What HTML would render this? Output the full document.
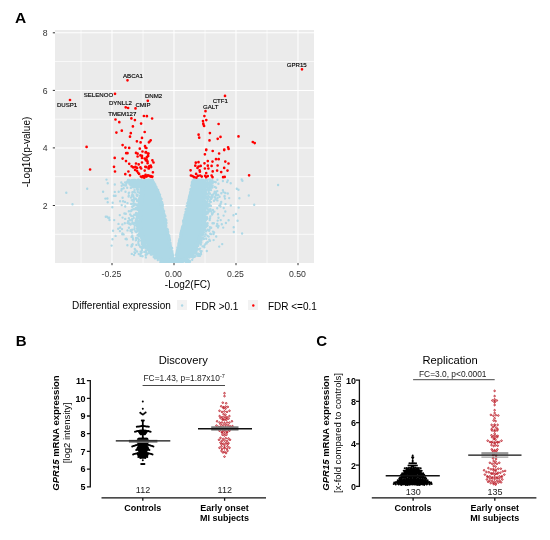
<!DOCTYPE html>
<html><head><meta charset="utf-8"><style>
html,body{margin:0;padding:0;background:#fff;}
svg{display:block;font-family:"Liberation Sans", sans-serif;filter:blur(0.35px);}
</style></head><body>
<svg width="550" height="540" viewBox="0 0 550 540">
<defs><clipPath id="pc"><rect x="55" y="30" width="259" height="233"/></clipPath></defs>
<rect x="55" y="30" width="259" height="233" fill="#EBEBEB"/>
<g clip-path="url(#pc)">
<path d="M81.0 30V263M143.0 30V263M205.0 30V263M267.0 30V263M55 234.3H314M55 176.7H314M55 119.2H314M55 61.6H314" stroke="#FBFBFB" stroke-width="0.85" fill="none"/>
<path d="M112.0 30V263M174.0 30V263M236.0 30V263M298.0 30V263M55 205.5H314M55 147.9H314M55 90.4H314M55 32.8H314" stroke="#FFFFFF" stroke-width="1.05" fill="none"/>
<path d="M143.0 184.0L142.5 195.0L141.0 206.0L140.0 222.0L141.0 232.0L142.5 237.0L144.5 241.4L147.5 246.8L152.7 252.3L158.8 257.7L165.0 261.0L174.0 263.0L174.0 263.0L182.5 260.0L189.8 255.6L193.6 250.2L196.6 244.7L198.6 239.3L201.0 233.8L203.5 222.9L204.3 212.0L204.3 197.0L203.0 186.0L192.5 186.0L191.5 190.3L190.5 194.5L189.5 198.8L188.6 203.1L187.6 207.3L186.6 211.6L185.6 215.9L184.7 220.1L183.7 224.4L182.7 228.6L181.7 232.9L180.8 237.2L179.8 241.4L178.8 245.7L177.8 250.0L176.8 254.2L175.9 258.5L173.0 258.5L172.1 254.1L171.2 249.7L170.2 245.4L169.3 241.0L168.4 236.6L167.4 232.2L166.5 227.8L165.6 223.4L164.6 219.1L163.7 214.7L162.8 210.3L161.8 205.9L160.9 201.5L160.0 197.1L158.4 192.8L156.2 188.4L154.1 184.0Z" fill="#ADD8E6"/>
<path d="M167.2 228.9h0M179.2 240.8h0M161.1 203.3h0M194.1 180.0h0M169.6 242.5h0M188.3 203.5h0M160.4 199.7h0M184.8 219.4h0M173.1 258.1h0M181.8 228.7h0M160.0 196.6h0M182.7 227.9h0M153.5 182.4h0M185.0 216.4h0M167.2 229.2h0M184.4 218.8h0M159.3 194.8h0M189.6 195.4h0M152.8 179.9h0M190.8 191.8h0M171.4 249.1h0M178.4 246.4h0M168.3 238.1h0M183.9 222.3h0M172.1 248.3h0M182.3 226.8h0M163.3 210.2h0M191.2 191.5h0M163.2 209.5h0M182.7 226.2h0M167.0 229.9h0M190.4 191.5h0M160.5 198.5h0M192.4 187.2h0M159.8 196.6h0M187.3 203.3h0M167.6 231.8h0M178.7 246.3h0M171.6 250.9h0M191.7 191.1h0M172.0 252.8h0M190.3 193.8h0M166.8 230.2h0M186.6 209.3h0M160.8 198.5h0M178.1 248.7h0M166.2 222.8h0M180.3 238.9h0M162.9 209.0h0M190.5 189.3h0M167.2 231.5h0M185.2 220.9h0M162.0 206.8h0M181.5 233.5h0M165.2 220.6h0M177.4 251.3h0M172.2 253.2h0M179.6 239.0h0M157.2 190.4h0M179.0 243.9h0M166.8 229.2h0M183.5 220.1h0M160.5 197.5h0M187.5 208.3h0M162.7 206.9h0M183.6 224.8h0M160.4 201.0h0M186.3 214.7h0M165.1 220.3h0M177.0 250.3h0M166.0 225.4h0M177.4 248.9h0M171.5 252.4h0M185.8 213.5h0M172.5 254.6h0M178.9 243.2h0M168.6 236.2h0M187.5 205.8h0M159.6 195.6h0M189.5 196.4h0M170.8 245.9h0M184.3 217.4h0M167.3 231.6h0M176.6 255.5h0M167.1 229.2h0M190.5 194.1h0M163.4 212.1h0M178.4 243.9h0M156.4 188.5h0M179.1 242.9h0M165.1 220.9h0M192.7 183.3h0M153.0 181.2h0M189.5 199.2h0M165.8 224.3h0M183.4 226.2h0M167.9 233.1h0M188.4 204.1h0M166.0 222.1h0M182.4 231.5h0M160.0 194.7h0M193.3 182.7h0M173.3 255.3h0M192.0 183.6h0M161.4 204.7h0M182.7 229.0h0M160.9 204.4h0M179.3 242.5h0M169.4 240.1h0M189.4 195.2h0M166.8 230.0h0M192.1 187.2h0M167.3 229.5h0M178.8 243.0h0M168.3 236.6h0M177.2 250.1h0M153.4 181.7h0M189.1 196.5h0M172.4 254.1h0M188.4 199.5h0M167.9 231.5h0M186.8 209.6h0M168.2 231.9h0M185.8 209.3h0M164.7 222.2h0M188.9 199.1h0M164.8 215.7h0M179.5 239.0h0M162.1 203.2h0M179.9 239.8h0M157.4 190.1h0M192.4 186.0h0M160.6 200.8h0M178.3 245.3h0M158.9 194.4h0M177.7 249.3h0M169.3 235.7h0M180.3 237.0h0M170.6 244.8h0M187.1 208.9h0M165.3 220.5h0M190.1 194.7h0M166.1 221.9h0M177.4 250.3h0M159.1 194.1h0M181.2 230.5h0M173.7 258.2h0M178.7 246.1h0M163.3 210.8h0M190.2 194.2h0M169.9 239.4h0M185.6 214.7h0M163.3 212.7h0M178.6 246.2h0M162.9 210.2h0M180.6 236.5h0M170.3 245.1h0M186.5 210.2h0M168.6 239.6h0M190.6 191.3h0M170.1 244.7h0M190.8 189.3h0M173.0 257.5h0M183.3 225.0h0M168.7 238.8h0M178.0 251.7h0M169.4 240.3h0M185.2 217.0h0M161.3 204.4h0M180.2 236.4h0M155.1 184.1h0M177.8 249.7h0M160.6 199.1h0M188.9 197.5h0M165.7 219.3h0M190.0 193.5h0M164.4 217.8h0M181.4 232.5h0M165.5 221.2h0M184.3 220.3h0M165.5 221.9h0M180.2 242.0h0M159.2 193.8h0M191.8 188.5h0M171.7 253.9h0M176.4 256.1h0M164.3 219.6h0M176.8 251.8h0M162.8 204.5h0M192.1 184.8h0M164.3 216.3h0M179.4 239.6h0M168.8 239.6h0M178.8 246.6h0M168.7 237.6h0M190.5 192.8h0M158.5 192.7h0M182.2 226.7h0M172.2 253.5h0M184.8 220.2h0M172.4 255.8h0M179.3 243.0h0M170.5 242.9h0M181.5 230.4h0M164.2 213.8h0M180.3 234.2h0M162.4 206.0h0M189.7 196.1h0M168.9 240.3h0M180.4 237.0h0M172.3 255.2h0M185.5 211.9h0M165.8 220.9h0M192.6 186.3h0M165.4 223.6h0M192.7 182.7h0M166.9 229.4h0M192.2 185.5h0M159.7 197.1h0M178.2 248.9h0M164.2 215.4h0M180.4 235.4h0M169.9 243.3h0M182.1 228.5h0M167.8 233.1h0M186.6 211.6h0M163.5 210.9h0M186.3 209.6h0M169.2 239.2h0M187.1 206.3h0M162.2 209.7h0M179.0 241.6h0M168.5 235.8h0M177.4 247.5h0M165.6 223.6h0M181.6 233.1h0M163.3 212.8h0M188.0 202.7h0M163.3 213.6h0M184.7 214.9h0M166.2 225.5h0M177.6 249.7h0M161.0 200.7h0M184.2 218.6h0M154.6 185.4h0M190.4 195.2h0M170.0 244.9h0M184.9 217.0h0M163.0 215.7h0M183.3 222.7h0M161.4 204.6h0M179.0 240.4h0M169.5 237.4h0M185.4 214.7h0M167.2 233.5h0M182.0 230.4h0M167.2 229.9h0M185.0 217.2h0M167.7 229.4h0M176.2 255.5h0M161.6 203.7h0M192.1 184.9h0M169.0 240.5h0M190.1 195.0h0M161.8 205.0h0M184.4 218.1h0M167.3 231.4h0M179.8 240.2h0M162.3 206.7h0M185.5 214.1h0M156.8 190.8h0M182.1 230.1h0M157.4 190.5h0M188.1 202.0h0M153.0 181.6h0M190.1 192.6h0M152.9 180.8h0M188.6 200.9h0M158.6 194.1h0M186.4 211.7h0M170.4 244.0h0M176.8 252.5h0M168.0 232.3h0M181.0 231.9h0M170.0 240.5h0M176.5 254.8h0M157.1 188.6h0M191.9 182.2h0M171.2 251.8h0M182.3 227.9h0M167.8 233.1h0M177.2 254.7h0M162.1 206.1h0M192.7 181.1h0M168.4 234.4h0M178.3 246.8h0M161.8 206.2h0M191.6 190.0h0M162.1 203.6h0M176.7 252.8h0M171.2 250.5h0M178.5 246.9h0M152.5 179.9h0M189.0 199.0h0M169.6 242.7h0M189.6 196.4h0M172.5 253.7h0M180.9 235.0h0M169.0 243.9h0M184.6 220.3h0M166.5 223.0h0M192.3 186.3h0M169.7 239.9h0M188.0 204.3h0M165.1 215.5h0M188.3 202.7h0M167.8 229.8h0M187.5 209.4h0M168.2 234.7h0M193.5 181.7h0M167.8 235.9h0M180.6 237.3h0M163.7 216.6h0M185.8 215.0h0M161.5 203.7h0M189.6 196.9h0M158.5 193.2h0M185.3 216.4h0M169.2 237.9h0M188.3 201.1h0M164.9 219.6h0M191.5 189.5h0M164.2 217.0h0M193.0 184.9h0M172.0 247.9h0M193.6 180.1h0M162.7 208.7h0M192.4 185.4h0M169.8 243.7h0M184.8 215.4h0M161.6 204.8h0M186.6 210.5h0M155.3 186.1h0M176.0 254.8h0M166.9 230.7h0M183.3 224.7h0M166.3 226.1h0M184.0 223.0h0M165.9 225.6h0M191.8 192.7h0M170.2 244.1h0M184.7 222.6h0M163.1 211.4h0M187.1 209.0h0M167.8 233.8h0M192.5 188.0h0M172.4 252.5h0M188.8 199.3h0M170.7 246.6h0M193.1 183.1h0M158.9 194.8h0M176.7 252.3h0M158.6 193.1h0M183.1 220.9h0M164.0 214.1h0M188.1 207.5h0M168.3 238.8h0M178.5 243.4h0M169.7 241.3h0M178.0 248.3h0M164.3 215.6h0M184.3 219.7h0M157.4 190.6h0M191.9 183.7h0M158.1 189.9h0M187.8 207.7h0M160.9 201.8h0M187.6 205.7h0M160.7 199.8h0M179.8 239.2h0M171.0 249.6h0M189.1 204.1h0M160.7 199.6h0M186.0 214.1h0M172.2 253.4h0M180.9 235.8h0M158.0 190.0h0M181.1 234.5h0M172.4 251.1h0M191.7 186.9h0M172.6 253.6h0M177.7 252.0h0M155.2 184.9h0M185.0 215.8h0M168.5 237.8h0M175.5 258.3h0M169.9 243.7h0M179.6 241.4h0M173.1 257.9h0M185.1 215.3h0M171.9 254.2h0M176.4 253.8h0M162.8 209.2h0M185.4 216.8h0M163.2 210.1h0M191.4 190.6h0M169.8 239.1h0M181.7 232.6h0M159.7 197.8h0M188.5 201.5h0M168.7 239.6h0M187.8 205.1h0M158.7 194.3h0M181.0 234.6h0M161.6 203.0h0M193.3 182.3h0M166.2 225.2h0M188.5 207.1h0M166.2 226.1h0M181.2 235.3h0M172.6 256.1h0M188.6 199.6h0M173.0 257.8h0M182.0 227.4h0M172.6 254.6h0M183.4 220.7h0M168.7 235.0h0M187.7 205.5h0M153.9 182.4h0M191.7 185.6h0M162.8 205.9h0M193.6 182.0h0M164.3 213.9h0M180.8 235.5h0M161.0 198.9h0M177.4 250.4h0M156.4 187.0h0M192.3 181.8h0M153.2 181.6h0M182.8 229.6h0M158.6 191.9h0M188.0 206.1h0M155.9 186.4h0M181.5 233.0h0M166.5 228.4h0M189.1 200.1h0M172.3 254.7h0M181.9 230.2h0M152.7 180.8h0M192.4 184.9h0M167.7 234.3h0M179.7 241.7h0M159.2 193.6h0M178.8 246.8h0M161.5 198.9h0M186.7 211.4h0M165.1 219.5h0M185.0 214.5h0M168.5 235.8h0M178.0 248.2h0M162.0 204.6h0M176.7 253.7h0M155.7 187.2h0M176.1 257.7h0M154.4 183.9h0M185.0 219.4h0M172.2 254.7h0M191.5 189.5h0M163.9 211.8h0M182.9 228.8h0M165.7 225.1h0M178.8 244.1h0M168.1 234.7h0M185.7 216.8h0M165.8 222.1h0M185.6 213.4h0M154.4 184.1h0M193.1 181.0h0M163.0 209.7h0M188.1 202.9h0M159.0 193.3h0M176.8 255.4h0M165.4 216.3h0M188.8 202.5h0M162.2 202.3h0M186.7 206.0h0M172.4 252.7h0M179.4 243.3h0M163.1 209.5h0M192.3 185.1h0M166.0 228.8h0M181.1 232.4h0M172.9 257.0h0M179.2 243.2h0M172.4 256.1h0M177.9 248.2h0M166.9 228.7h0M190.0 195.4h0M161.4 202.5h0M191.6 189.7h0M171.9 252.4h0M193.3 180.6h0M157.0 190.2h0M182.9 225.6h0M163.4 213.5h0M181.8 232.0h0M164.1 211.1h0M178.1 251.0h0M168.3 236.3h0M177.7 250.2h0M165.0 219.5h0M180.7 232.7h0M156.5 190.4h0M192.8 181.9h0M172.5 255.3h0M190.1 192.3h0M155.1 186.4h0M182.5 226.3h0M156.0 188.2h0M178.5 243.1h0M157.4 190.5h0M182.5 229.3h0M171.1 247.8h0M184.0 219.9h0M165.9 224.1h0M180.4 237.3h0M172.3 257.9h0M186.4 213.0h0M169.3 241.1h0M181.5 230.1h0M166.3 220.3h0M184.7 216.6h0M161.1 202.1h0M187.6 204.6h0M163.8 211.9h0M176.3 254.4h0M172.5 258.1h0M191.3 185.4h0M153.9 183.5h0M191.1 194.2h0M161.1 203.6h0M179.3 244.5h0M161.6 205.5h0M192.8 180.1h0M171.6 255.4h0M177.8 248.2h0M161.5 202.8h0M188.3 202.4h0M154.5 186.1h0M179.8 238.8h0M158.1 191.2h0M188.0 203.0h0M169.2 238.3h0M193.5 184.3h0M172.4 257.2h0M180.9 240.3h0M170.7 248.5h0M177.5 249.7h0M171.0 248.2h0M181.0 236.1h0M146.4 181.2h0M138.1 179.6h0M148.0 182.8h0M140.1 182.5h0M145.1 182.0h0M127.3 182.2h0M138.3 185.8h0M136.9 185.0h0M146.7 179.9h0M124.1 185.3h0M148.8 182.2h0M132.1 182.6h0M137.6 181.2h0M130.4 180.8h0M150.8 185.3h0M142.3 185.8h0M143.0 185.8h0M132.3 180.1h0M139.6 183.1h0M155.0 185.4h0M138.1 180.7h0M151.9 184.3h0M144.5 184.3h0M155.0 185.3h0M148.0 180.6h0M139.2 184.3h0M144.6 179.6h0M134.9 183.5h0M136.1 182.5h0M138.4 181.1h0M149.1 185.0h0M131.2 183.1h0M149.4 185.8h0M132.8 181.6h0M130.5 180.8h0M141.2 181.6h0M133.6 183.5h0M152.1 184.3h0M145.9 185.5h0M130.5 184.0h0M142.2 184.0h0M138.8 181.7h0M152.4 182.7h0M155.0 185.3h0M155.3 185.3h0M145.6 181.6h0M144.4 184.6h0M151.7 184.8h0M138.9 186.0h0M129.3 183.7h0M150.2 181.5h0M153.7 184.7h0M134.5 180.7h0M125.1 182.5h0M144.1 180.7h0M136.0 184.9h0M152.6 181.6h0M153.9 185.0h0M137.3 182.8h0M151.3 184.4h0M138.4 181.8h0M148.8 185.9h0M146.1 185.8h0M135.6 180.2h0M130.6 183.0h0M136.9 180.5h0M145.5 180.2h0M133.9 181.2h0M130.3 183.9h0M140.9 181.0h0M134.1 184.0h0M142.2 182.2h0M132.3 183.9h0M131.7 181.5h0M148.5 179.7h0M146.1 181.8h0M137.5 180.7h0M150.4 185.9h0M137.7 179.9h0M138.9 180.7h0M133.0 180.0h0M133.0 182.2h0M147.4 180.2h0M153.8 183.0h0M145.3 179.7h0M132.0 184.7h0M134.3 181.2h0M143.9 180.4h0M141.7 185.6h0M140.6 181.9h0M151.1 181.6h0M153.7 185.3h0M139.9 185.2h0M128.7 182.0h0M144.5 181.4h0M139.7 182.7h0M147.3 184.1h0M141.2 184.2h0M141.6 180.3h0M135.7 184.5h0M140.4 180.8h0M147.4 181.7h0M145.0 184.1h0M142.1 183.2h0M143.8 181.1h0M149.8 179.8h0M141.9 181.4h0M154.4 185.6h0M150.6 183.8h0M142.9 181.0h0M144.0 185.0h0M144.8 181.0h0M153.7 185.0h0M147.2 180.8h0M130.5 183.3h0M153.4 182.7h0M145.0 181.4h0M136.6 180.8h0M131.9 182.8h0M146.1 182.4h0M142.3 180.8h0M133.9 182.2h0M140.9 182.1h0M139.8 181.0h0M138.3 179.6h0M134.1 180.0h0M133.5 184.7h0M143.2 181.8h0M152.8 185.1h0M134.6 185.5h0M147.9 185.9h0M140.0 181.4h0M129.0 180.4h0M148.9 182.0h0M126.0 185.3h0M136.0 181.8h0M152.1 181.4h0M151.0 184.9h0M154.2 182.9h0M151.2 184.6h0M139.6 184.9h0M133.4 184.9h0M141.9 185.3h0M152.3 183.0h0M135.6 185.6h0M146.3 184.1h0M134.7 184.0h0M140.9 181.8h0M126.9 181.7h0M141.5 181.3h0M140.9 182.2h0M147.7 184.0h0M144.2 183.6h0M148.2 185.5h0M148.6 183.1h0M140.3 179.9h0M135.9 182.5h0M148.7 185.0h0M145.3 183.1h0M141.4 184.3h0M144.6 182.6h0M132.9 181.5h0M143.3 184.3h0M138.2 185.2h0M131.3 182.7h0M145.3 182.6h0M144.7 183.6h0M132.4 182.9h0M145.7 181.5h0M143.1 181.2h0M146.7 184.1h0M151.2 180.3h0M137.7 184.2h0M149.8 181.7h0M138.1 184.7h0M138.7 183.4h0M128.5 180.5h0M150.6 182.6h0M142.1 186.0h0M134.3 182.1h0M143.3 183.1h0M142.6 185.0h0M135.0 180.0h0M137.6 180.9h0M146.3 180.7h0M126.4 183.4h0M154.1 182.4h0M142.9 181.9h0M138.2 185.6h0M140.8 184.2h0M130.4 185.2h0M135.2 184.6h0M149.6 182.9h0M136.3 183.6h0M153.9 184.3h0M130.0 184.3h0M136.6 180.9h0M122.8 184.2h0M131.2 183.6h0M146.3 181.7h0M135.4 181.2h0M154.1 184.2h0M149.8 185.9h0M136.9 184.3h0M150.2 184.5h0M154.8 184.4h0M148.7 183.6h0M134.1 181.4h0M149.6 184.1h0M152.6 181.9h0M137.5 181.3h0M153.0 181.1h0M153.5 182.6h0M132.5 186.0h0M150.6 180.6h0M145.5 179.9h0M135.6 183.0h0M146.3 181.4h0M145.4 184.2h0M154.2 183.8h0M140.2 183.9h0M132.8 181.4h0M142.7 180.7h0M155.3 185.0h0M151.9 184.1h0M144.5 184.4h0M140.6 183.5h0M150.5 184.4h0M137.5 180.1h0M134.0 183.9h0M138.9 181.4h0M135.5 182.3h0M137.5 184.3h0M137.0 185.6h0M147.3 181.2h0M145.3 185.5h0M149.3 183.0h0M148.4 184.9h0M129.7 183.5h0M144.7 184.0h0M197.6 185.1h0M210.8 182.8h0M201.6 187.7h0M193.4 187.8h0M198.7 185.6h0M204.8 186.8h0M195.6 182.5h0M207.8 187.4h0M193.2 183.5h0M195.6 185.4h0M212.3 187.5h0M197.7 186.9h0M200.0 186.2h0M193.5 186.9h0M194.1 184.3h0M199.4 183.9h0M196.4 185.0h0M194.7 187.1h0M206.9 185.3h0M193.7 186.3h0M201.2 186.7h0M196.9 182.7h0M193.7 180.9h0M201.9 179.8h0M199.0 184.7h0M203.4 181.6h0M207.6 187.3h0M208.3 183.7h0M205.6 182.8h0M192.0 185.1h0M197.9 187.5h0M203.4 184.7h0M199.4 183.3h0M194.2 185.5h0M196.1 180.5h0M199.9 180.0h0M204.8 185.5h0M203.9 181.2h0M205.8 183.9h0M194.9 180.7h0M202.7 181.2h0M210.6 184.9h0M192.1 185.7h0M197.3 181.9h0M193.1 186.4h0M208.9 184.2h0M202.2 185.1h0M197.2 180.3h0M198.8 187.4h0M197.0 180.1h0M207.5 181.1h0M197.5 187.5h0M198.8 181.5h0M201.0 179.9h0M195.2 184.7h0M204.3 183.7h0M211.4 183.2h0M196.8 181.8h0M207.2 185.5h0M193.9 182.3h0M193.8 180.5h0M199.0 182.9h0M198.6 180.6h0M202.6 181.1h0M212.0 187.2h0M212.2 180.1h0M192.5 185.5h0M203.6 185.5h0M205.2 180.2h0M195.1 181.7h0M202.5 181.8h0M209.8 185.4h0M200.9 185.5h0M200.2 180.0h0M208.5 183.5h0M199.5 182.4h0M192.3 186.5h0M202.1 187.4h0M211.2 181.6h0M195.8 181.5h0M195.7 182.3h0M195.7 184.9h0M209.9 185.7h0M194.4 186.7h0M197.4 185.2h0M199.7 180.1h0M193.8 179.7h0M206.2 187.3h0M194.1 184.5h0M206.4 183.0h0M195.2 184.2h0M202.4 182.4h0M193.1 182.9h0M206.6 180.3h0M204.0 183.9h0M193.5 184.3h0M198.5 187.5h0M201.0 186.1h0M194.3 182.9h0M202.7 182.2h0M211.5 181.3h0M198.3 184.3h0M193.9 187.0h0M199.9 186.4h0M203.8 187.3h0M201.3 183.8h0M206.8 183.2h0M203.0 182.6h0M206.2 183.2h0M197.1 179.9h0M207.5 183.8h0M193.9 184.5h0M196.2 181.5h0M205.1 180.9h0M201.0 184.2h0M205.8 183.9h0M194.0 187.9h0M208.1 187.9h0M205.9 180.1h0M204.3 186.9h0M195.3 184.0h0M196.5 181.3h0M195.4 184.5h0M207.2 185.5h0M210.5 184.8h0M197.2 185.6h0M195.3 182.9h0M196.6 180.1h0M197.5 187.8h0M203.7 187.0h0M193.2 183.5h0M192.8 183.2h0M211.7 180.4h0M202.2 185.6h0M196.6 185.2h0M213.9 181.8h0M199.1 181.4h0M194.5 185.4h0M201.5 181.7h0M205.2 186.6h0M193.5 184.3h0M209.6 185.9h0M199.7 187.2h0M197.2 179.6h0M212.6 185.4h0M201.5 184.1h0M212.6 181.8h0M192.7 184.1h0M200.2 187.9h0M201.8 181.4h0M193.7 185.7h0M195.0 179.6h0M214.8 186.9h0M196.0 186.9h0M199.9 182.6h0M199.2 187.0h0M192.2 185.9h0M197.8 180.7h0M211.5 181.1h0M196.3 182.7h0M205.8 185.0h0M199.6 186.3h0M201.1 181.4h0M203.3 186.3h0M203.3 179.9h0M193.4 186.5h0M200.0 187.0h0M199.4 179.6h0M209.5 185.2h0M196.6 185.2h0M199.3 181.0h0M196.5 187.5h0M198.5 179.6h0M211.4 181.0h0M204.3 187.7h0M194.1 183.5h0M198.2 179.8h0M203.2 183.6h0M201.0 181.9h0M201.7 179.5h0M196.9 182.0h0M196.1 184.7h0M196.7 183.3h0M201.5 182.8h0M195.1 180.3h0M196.8 182.1h0M202.4 180.3h0M196.1 180.6h0M204.9 182.2h0M198.4 180.5h0M196.0 186.2h0M194.8 179.8h0M210.9 185.8h0M204.7 186.9h0M194.5 185.6h0M201.7 185.7h0M194.1 187.2h0M199.4 187.9h0M206.1 179.8h0M198.8 183.9h0M197.6 183.8h0M193.6 184.1h0M195.9 187.7h0M210.0 181.2h0M195.0 180.3h0M209.8 179.5h0M198.7 182.8h0M193.6 185.4h0M193.5 181.7h0M197.7 179.9h0M198.8 179.7h0M200.1 187.3h0M202.5 182.5h0M193.6 180.0h0M192.4 186.6h0M198.4 180.7h0M205.1 180.8h0M207.9 184.1h0M210.6 187.9h0M207.8 179.7h0M157.8 260.1h0M139.3 216.3h0M151.5 250.6h0M164.1 260.1h0M142.4 235.6h0M142.2 200.9h0M159.7 258.0h0M157.0 255.6h0M140.6 209.8h0M168.0 261.6h0M152.3 251.6h0M160.5 258.8h0M140.5 204.7h0M141.9 196.6h0M141.3 186.1h0M140.8 230.6h0M139.5 185.0h0M142.4 193.8h0M143.3 186.0h0M139.1 215.5h0M140.7 209.4h0M147.2 245.7h0M140.8 210.1h0M139.8 205.5h0M143.3 190.6h0M140.3 217.0h0M150.9 249.9h0M140.5 217.0h0M150.1 249.2h0M147.7 249.1h0M141.7 204.9h0M146.2 245.9h0M142.1 201.9h0M140.6 232.2h0M153.7 253.2h0M136.3 218.4h0M138.4 235.8h0M142.9 238.0h0M142.8 239.0h0M141.8 203.8h0M158.7 257.2h0M142.5 193.8h0M140.7 214.7h0M143.1 191.0h0M147.8 246.2h0M141.0 208.3h0M137.5 226.6h0M139.8 216.2h0M141.2 214.7h0M141.9 244.2h0M153.9 252.9h0M142.1 199.5h0M163.6 260.0h0M141.7 232.9h0M169.1 261.8h0M138.6 227.9h0M146.3 247.6h0M140.6 214.3h0M141.6 206.1h0M141.4 247.1h0M139.8 228.7h0M142.2 235.8h0M141.0 229.4h0M153.4 253.2h0M140.5 222.2h0M142.5 238.7h0M162.3 259.6h0M142.4 192.9h0M150.0 248.9h0M139.8 232.2h0M171.7 262.4h0M140.5 190.4h0M141.4 207.6h0M141.3 194.2h0M142.2 194.5h0M140.4 229.4h0M143.1 236.4h0M162.2 259.3h0M140.0 211.2h0M141.0 232.6h0M140.4 218.6h0M140.5 219.9h0M140.6 216.2h0M140.4 206.9h0M139.7 224.2h0M142.7 239.7h0M142.2 234.9h0M158.8 257.5h0M148.4 247.2h0M135.5 215.1h0M141.1 235.4h0M154.0 252.9h0M140.8 223.5h0M141.8 190.5h0M169.5 261.9h0M143.1 193.2h0M139.8 211.0h0M140.3 217.9h0M140.5 224.6h0M143.4 192.6h0M161.0 258.7h0M160.0 258.4h0M141.3 234.2h0M143.0 191.1h0M141.0 218.7h0M140.7 207.2h0M139.3 208.6h0M141.1 208.4h0M139.2 222.1h0M139.2 187.3h0M143.7 184.6h0M137.7 191.8h0M140.7 216.3h0M143.7 238.5h0M141.1 212.4h0M139.8 219.6h0M141.0 190.6h0M139.7 221.4h0M143.6 238.8h0M143.4 239.9h0M140.6 221.5h0M138.8 199.9h0M139.8 229.2h0M145.4 244.8h0M142.3 196.5h0M141.7 232.2h0M139.9 203.8h0M141.4 231.4h0M141.6 240.0h0M142.7 197.3h0M140.7 231.9h0M141.1 208.8h0M142.7 238.7h0M157.4 257.9h0M140.2 211.2h0M144.2 239.7h0M161.4 258.8h0M140.6 237.5h0M156.4 255.3h0M166.4 261.2h0M143.1 186.9h0M140.9 229.2h0M143.4 190.5h0M140.0 229.5h0M144.9 243.9h0M152.9 252.9h0M140.1 222.8h0M141.4 200.8h0M141.3 211.9h0M142.7 198.1h0M139.3 192.8h0M140.9 227.2h0M141.4 209.7h0M142.1 196.3h0M142.7 198.4h0M143.3 239.1h0M140.7 236.8h0M139.3 223.6h0M138.9 217.5h0M139.6 210.9h0M141.4 203.3h0M141.0 211.0h0M151.1 250.5h0M140.7 212.3h0M149.4 248.9h0M142.4 236.4h0M140.7 214.6h0M141.4 231.7h0M138.9 212.9h0M162.6 259.6h0M141.9 189.8h0M160.2 258.0h0M142.5 234.4h0M141.0 227.3h0M139.3 235.7h0M142.6 235.4h0M143.2 189.9h0M141.7 205.5h0M139.7 199.6h0M139.5 218.4h0M139.8 223.1h0M142.8 239.7h0M141.5 229.9h0M140.9 220.0h0M141.7 231.5h0M141.0 226.4h0M152.2 251.2h0M139.8 235.8h0M140.6 205.6h0M141.5 209.9h0M142.0 204.4h0M143.2 236.8h0M142.3 199.5h0M147.5 247.1h0M140.6 220.7h0M147.7 247.4h0M140.9 224.3h0M138.1 224.6h0M140.0 228.7h0M155.1 253.7h0M140.9 189.0h0M160.1 258.0h0M143.7 185.9h0M140.9 229.3h0M140.2 228.1h0M142.0 185.2h0M140.6 203.8h0M140.9 211.8h0M141.2 215.7h0M140.6 217.7h0M141.2 212.1h0M139.3 210.3h0M165.6 261.2h0M152.1 252.0h0M143.4 191.9h0M154.4 253.4h0M142.1 192.3h0M143.8 239.5h0M140.5 223.3h0M141.4 209.0h0M141.1 233.9h0M142.8 190.6h0M141.4 211.6h0M140.3 230.7h0M140.6 205.7h0M155.7 254.7h0M157.4 256.1h0M141.4 234.7h0M141.4 205.8h0M153.6 254.3h0M142.4 190.8h0M141.8 200.7h0M137.8 229.0h0M145.0 241.1h0M140.2 213.3h0M155.9 255.6h0M142.7 198.7h0M141.8 203.5h0M140.8 211.0h0M139.8 224.1h0M161.7 258.9h0M140.4 228.7h0M142.3 196.0h0M140.9 199.7h0M136.4 209.4h0M140.2 202.4h0M140.7 230.0h0M158.2 257.0h0M140.3 209.6h0M139.8 222.3h0M143.0 196.0h0M143.9 241.8h0M152.3 251.3h0M140.6 202.9h0M141.3 212.4h0M133.7 201.3h0M141.4 204.8h0M149.6 249.5h0M141.8 243.1h0M140.4 207.5h0M141.1 227.3h0M142.0 194.4h0M141.3 194.8h0M141.2 227.8h0M152.7 252.9h0M140.5 218.8h0M140.3 220.9h0M140.7 229.9h0M136.8 231.7h0M141.5 233.0h0M143.2 195.7h0M150.7 249.3h0M139.2 204.1h0M140.4 223.2h0M142.1 200.7h0M142.1 196.6h0M140.7 206.9h0M143.6 238.0h0M143.0 236.2h0M139.0 226.9h0M158.7 257.3h0M166.1 261.2h0M141.0 207.4h0M136.4 223.9h0M141.0 219.1h0M143.3 238.9h0M154.1 253.3h0M141.5 207.2h0M140.9 207.8h0M141.7 205.0h0M137.8 230.0h0M141.2 192.6h0M143.5 189.4h0M140.4 213.4h0M153.9 252.7h0M141.0 234.7h0M139.4 216.7h0M141.5 203.4h0M141.8 188.2h0M143.6 186.3h0M144.1 240.9h0M140.9 224.2h0M141.0 196.6h0M142.2 193.7h0M145.8 243.0h0M161.1 258.7h0M140.0 225.4h0M140.3 223.3h0M143.0 187.6h0M147.8 246.0h0M139.9 226.9h0M141.0 215.8h0M140.2 233.0h0M152.0 254.5h0M171.4 262.4h0M141.7 205.1h0M142.6 189.6h0M140.5 193.4h0M143.7 238.1h0M140.6 220.4h0M157.8 256.1h0M140.9 209.2h0M140.0 198.2h0M139.2 221.7h0M143.1 188.9h0M141.5 230.3h0M142.9 187.5h0M138.5 207.9h0M137.8 238.3h0M150.7 253.9h0M140.5 209.8h0M141.2 204.3h0M142.6 200.2h0M142.0 202.8h0M142.5 236.8h0M143.4 187.7h0M140.0 199.8h0M142.1 201.4h0M141.7 197.8h0M150.7 252.1h0M140.7 225.4h0M143.5 189.5h0M150.0 250.1h0M141.5 237.9h0M151.1 249.8h0M138.8 222.0h0M147.9 246.3h0M140.7 212.5h0M141.6 230.2h0M139.7 226.7h0M145.3 241.5h0M139.7 218.6h0M140.6 214.4h0M160.4 258.2h0M160.9 258.4h0M143.0 190.1h0M138.3 206.5h0M149.9 250.0h0M141.2 214.6h0M141.6 233.1h0M135.1 192.4h0M142.5 184.1h0M135.5 222.7h0M153.8 252.7h0M140.2 223.1h0M141.0 218.5h0M139.1 212.3h0M143.3 184.3h0M155.6 254.2h0M158.6 258.2h0M140.5 200.5h0M138.7 221.2h0M140.4 213.6h0M142.9 194.2h0M141.3 206.2h0M149.4 250.3h0M135.4 231.2h0M140.4 222.8h0M141.0 225.7h0M141.4 207.5h0M206.1 213.4h0M207.2 198.6h0M203.6 206.9h0M203.8 216.0h0M198.7 238.2h0M209.5 205.0h0M204.3 209.6h0M204.5 195.8h0M204.0 214.6h0M204.8 188.0h0M204.3 203.3h0M200.1 237.5h0M205.2 226.3h0M204.1 198.5h0M203.8 200.1h0M204.4 223.5h0M200.7 235.3h0M200.2 240.1h0M207.6 223.2h0M195.4 250.2h0M202.4 224.4h0M191.5 252.4h0M203.7 217.0h0M204.3 201.9h0M203.7 203.5h0M204.6 225.3h0M205.2 216.8h0M204.1 216.3h0M203.5 194.6h0M204.1 195.4h0M203.3 221.9h0M205.2 204.2h0M176.3 261.9h0M205.2 210.4h0M193.8 251.1h0M204.3 203.3h0M203.5 192.6h0M201.2 230.1h0M203.9 218.3h0M203.2 192.5h0M195.2 245.8h0M181.2 261.4h0M182.8 261.5h0M202.5 186.2h0M204.7 210.4h0M204.0 190.6h0M189.6 255.6h0M205.6 205.4h0M194.3 248.7h0M203.7 195.8h0M207.0 217.3h0M203.3 191.8h0M207.6 213.1h0M205.1 197.7h0M209.3 210.7h0M195.2 248.9h0M192.7 250.7h0M203.6 207.1h0M203.6 205.5h0M195.2 246.0h0M204.5 200.7h0M195.8 244.8h0M194.6 247.8h0M195.6 245.1h0M209.3 188.7h0M200.5 238.3h0M205.5 226.7h0M203.7 196.0h0M203.9 212.7h0M204.8 205.0h0M203.7 220.1h0M204.9 206.6h0M184.9 258.1h0M203.3 222.7h0M203.5 211.7h0M203.0 192.1h0M204.2 195.6h0M205.4 192.0h0M195.4 247.4h0M198.6 238.9h0M203.1 221.6h0M203.5 208.0h0M204.9 201.1h0M188.9 257.0h0M204.2 210.2h0M201.3 230.6h0M205.5 203.0h0M205.0 215.0h0M203.2 216.4h0M191.8 253.1h0M183.5 259.3h0M203.8 207.5h0M204.2 209.4h0M204.5 200.1h0M207.4 208.5h0M204.5 220.1h0M203.0 189.8h0M183.7 258.9h0M203.8 191.3h0M204.0 208.2h0M201.3 232.6h0M204.1 200.4h0M204.3 220.8h0M203.8 191.2h0M201.3 229.2h0M182.6 260.1h0M198.3 245.3h0M184.4 258.5h0M202.4 186.5h0M203.0 221.1h0M180.8 261.0h0M204.8 229.5h0M207.0 218.0h0M198.1 240.5h0M203.7 207.7h0M203.9 210.1h0M205.9 192.2h0M205.5 205.7h0M206.0 191.1h0M199.8 235.4h0M180.1 260.6h0M205.0 206.1h0M204.6 211.8h0M204.3 204.2h0M203.9 239.0h0M191.5 253.6h0M202.4 226.6h0M199.5 237.7h0M193.4 250.2h0M203.9 199.4h0M208.7 211.7h0M203.8 220.9h0M187.3 257.2h0M184.5 258.4h0M202.5 187.0h0M200.0 239.0h0M193.5 249.8h0M198.7 238.5h0M201.5 230.9h0M203.7 214.8h0M196.7 250.5h0M203.5 212.8h0M194.1 250.4h0M181.5 260.2h0M206.4 214.2h0M203.9 227.9h0M191.5 253.7h0M186.6 258.5h0M203.9 215.0h0M204.6 217.0h0M206.2 226.6h0M194.9 249.2h0M191.2 256.0h0M191.9 251.6h0M203.4 187.2h0M206.3 211.5h0M203.9 216.0h0M207.1 204.8h0M192.5 254.9h0M205.0 214.0h0M202.3 227.0h0M204.2 223.0h0M191.3 253.3h0M199.5 238.3h0M204.1 213.7h0M196.9 247.0h0M205.6 192.5h0M179.4 261.0h0M200.3 234.4h0M204.4 232.1h0M199.6 243.0h0M203.6 208.4h0M193.8 248.5h0M204.1 203.8h0M196.2 245.3h0M194.7 250.1h0M193.5 250.5h0M191.0 253.3h0M203.8 213.2h0M203.3 230.6h0M194.4 247.9h0M204.6 195.3h0M198.5 238.6h0M202.8 190.4h0M203.8 205.0h0M203.7 201.9h0M204.3 199.0h0M203.6 193.1h0M204.7 219.5h0M191.7 252.7h0M203.4 195.6h0M199.3 237.6h0M201.6 229.6h0M204.7 236.4h0M203.7 192.6h0M203.2 188.6h0M201.3 233.0h0M204.3 190.2h0M204.6 198.8h0M204.4 215.2h0M205.3 213.5h0M203.8 214.5h0M203.9 196.7h0M196.7 245.0h0M205.0 207.8h0M191.8 253.2h0M203.7 219.2h0M204.2 198.7h0M203.9 207.7h0M204.9 193.2h0M204.4 204.0h0M208.7 191.8h0M193.4 249.4h0M203.4 226.4h0M201.0 232.4h0M183.6 259.2h0M194.4 248.7h0M200.4 235.7h0M203.0 226.2h0M200.5 233.9h0M206.4 190.5h0M205.1 205.4h0M205.5 204.3h0M178.9 261.3h0M203.7 210.6h0M202.6 188.1h0M203.0 189.7h0M178.1 261.3h0M201.8 228.0h0M205.1 188.8h0M203.7 195.7h0M194.1 248.5h0M204.6 201.2h0M204.1 200.9h0M204.0 209.5h0M204.2 209.8h0M187.9 257.3h0M204.4 199.4h0M203.8 196.7h0M205.9 191.4h0M197.5 241.6h0M196.4 245.2h0M203.5 199.6h0M204.4 219.7h0M203.4 220.3h0M192.9 256.1h0M196.8 242.6h0M203.7 203.7h0M204.3 217.9h0M206.7 203.1h0M205.5 198.5h0M190.6 254.1h0M191.8 252.2h0M201.0 232.2h0M204.4 211.1h0M204.3 219.8h0M198.1 241.7h0M205.1 212.5h0M197.3 244.4h0M204.6 203.0h0M206.1 207.1h0M204.0 187.3h0M196.0 244.7h0M199.4 238.1h0M201.3 234.7h0M189.3 256.0h0M195.6 248.1h0M205.4 214.5h0M205.1 200.9h0M179.8 261.1h0M201.7 232.7h0M187.7 257.0h0M194.2 249.1h0M192.5 251.7h0M199.4 235.9h0M203.0 191.5h0M197.2 242.3h0M189.2 255.5h0M207.6 199.2h0M204.4 218.0h0M195.7 245.7h0M180.8 260.5h0M192.7 251.7h0M186.0 257.6h0M188.7 256.8h0M204.6 220.3h0M202.5 228.4h0M199.2 239.2h0M204.6 186.7h0M201.0 231.9h0M204.9 223.9h0M205.0 208.7h0M205.0 198.8h0M185.1 258.0h0M196.5 244.9h0M203.8 190.5h0M199.3 239.5h0M183.9 258.7h0M203.8 206.5h0M203.8 214.4h0M203.0 187.6h0M205.5 206.0h0M203.6 214.9h0M204.3 219.9h0M204.1 198.2h0M191.4 255.0h0M203.6 210.0h0M192.1 253.1h0M198.3 239.1h0M209.3 204.5h0M204.7 191.5h0M204.1 210.6h0M204.4 203.3h0M199.4 237.3h0M203.9 212.1h0M204.8 195.5h0M189.8 254.4h0M203.6 212.4h0M183.6 259.0h0M203.7 191.2h0M176.6 262.4h0M205.5 194.8h0M205.8 225.8h0M196.3 243.6h0M203.8 220.7h0M202.2 227.6h0M185.7 260.0h0M196.2 250.0h0M203.7 209.5h0M204.6 198.8h0M142.1 242.3h0M150.9 253.3h0M138.4 208.1h0M137.1 224.4h0M141.5 241.1h0M132.3 194.4h0M144.3 251.9h0M136.2 204.8h0M137.8 227.5h0M139.9 200.9h0M141.9 186.7h0M137.2 201.0h0M139.7 234.7h0M136.9 213.9h0M142.6 241.8h0M136.9 187.5h0M160.6 259.5h0M161.1 259.8h0M133.5 206.0h0M157.7 257.8h0M141.6 238.2h0M136.1 213.0h0M139.7 231.5h0M135.9 220.2h0M138.7 230.5h0M142.0 239.5h0M141.7 185.3h0M138.1 230.4h0M143.6 247.2h0M140.6 190.7h0M137.8 214.7h0M152.2 252.9h0M139.2 205.8h0M136.3 207.7h0M137.9 189.7h0M132.0 219.3h0M137.1 226.2h0M142.4 239.5h0M142.6 240.6h0M140.3 235.7h0M137.5 188.6h0M131.4 246.5h0M146.0 251.0h0M136.4 224.9h0M145.3 245.5h0M141.1 192.4h0M132.3 223.6h0M138.3 226.0h0M145.1 244.5h0M137.2 208.5h0M143.2 240.9h0M139.6 230.9h0M135.7 221.3h0M143.7 246.2h0M155.5 258.3h0M139.9 187.1h0M148.5 249.1h0M141.3 237.0h0M139.3 198.0h0M134.3 204.9h0M131.8 200.3h0M132.0 219.9h0M156.7 257.7h0M147.6 249.1h0M138.9 233.6h0M148.2 250.0h0M129.1 192.6h0M137.2 222.9h0M123.7 188.3h0M132.3 222.1h0M130.8 187.9h0M128.8 211.3h0M137.5 230.7h0M152.2 254.0h0M148.3 249.0h0M140.3 182.8h0M138.1 204.2h0M134.7 225.7h0M143.3 243.7h0M136.2 232.0h0M147.6 249.2h0M161.0 259.7h0M125.8 185.5h0M136.7 195.6h0M138.6 222.0h0M138.4 215.1h0M136.7 188.7h0M137.9 217.2h0M144.0 243.5h0M136.8 184.0h0M139.5 213.9h0M140.3 201.9h0M138.4 207.8h0M139.4 198.7h0M141.5 194.4h0M137.4 195.9h0M137.6 194.9h0M148.9 250.6h0M137.6 218.7h0M142.7 243.7h0M142.3 244.6h0M142.0 240.3h0M138.8 239.6h0M133.8 187.1h0M140.9 184.8h0M134.5 228.1h0M137.3 186.5h0M139.4 208.9h0M135.8 207.9h0M137.5 188.5h0M138.5 185.4h0M139.7 207.7h0M152.6 254.2h0M151.3 252.6h0M144.0 247.0h0M135.3 204.5h0M141.8 188.7h0M150.8 254.6h0M142.8 244.0h0M136.9 189.2h0M141.2 195.3h0M136.7 183.5h0M138.9 202.2h0M153.7 257.0h0M141.0 237.1h0M141.2 240.5h0M138.9 223.2h0M139.8 198.2h0M134.5 203.6h0M128.9 218.3h0M149.5 252.0h0M136.7 194.5h0M152.9 254.0h0M138.7 199.3h0M145.7 248.6h0M142.1 239.0h0M139.4 211.1h0M139.8 231.6h0M145.0 244.3h0M136.3 183.9h0M135.2 186.8h0M132.4 183.3h0M145.5 247.8h0M141.7 182.6h0M139.9 186.8h0M128.9 223.2h0M137.0 231.3h0M139.8 197.7h0M154.9 258.3h0M136.9 216.1h0M141.5 238.2h0M131.0 197.6h0M156.2 257.1h0M140.7 187.1h0M134.0 187.5h0M137.8 206.0h0M120.1 201.2h0M130.0 220.2h0M137.0 228.7h0M141.5 187.7h0M131.7 209.9h0M149.6 252.9h0M139.5 228.7h0M151.5 254.4h0M137.8 230.0h0M132.2 200.4h0M137.5 235.3h0M137.3 189.4h0M151.3 252.4h0M133.3 195.3h0M140.4 190.0h0M146.9 248.7h0M138.3 208.2h0M139.5 232.5h0M137.0 200.1h0M145.3 245.3h0M138.0 222.7h0M139.6 207.4h0M130.2 214.5h0M142.2 239.0h0M142.8 247.9h0M136.7 204.6h0M140.1 195.8h0M138.1 210.1h0M149.1 250.2h0M136.8 220.4h0M139.1 234.5h0M142.5 246.3h0M140.3 236.1h0M138.7 241.1h0M137.8 208.5h0M123.1 201.3h0M149.1 252.5h0M138.0 213.3h0M157.0 258.1h0M154.7 257.2h0M136.9 222.1h0M148.8 251.2h0M135.2 209.0h0M154.7 255.7h0M144.6 244.6h0M146.3 246.9h0M140.7 182.1h0M131.4 216.0h0M154.0 256.8h0M145.8 247.1h0M146.7 247.6h0M144.0 242.3h0M136.7 218.5h0M139.0 201.7h0M134.3 214.7h0M134.7 222.9h0M140.0 246.5h0M140.3 234.2h0M138.6 227.2h0M137.6 200.3h0M132.3 199.9h0M139.1 187.2h0M139.4 214.1h0M133.1 203.5h0M139.5 227.2h0M137.3 227.1h0M139.9 192.5h0M140.1 198.7h0M144.9 246.1h0M140.5 192.9h0M139.5 229.9h0M135.4 223.1h0M142.3 241.8h0M135.3 182.9h0M209.8 201.0h0M205.3 193.8h0M192.9 256.2h0M208.1 189.6h0M207.2 187.1h0M186.7 259.5h0M207.3 218.5h0M213.7 211.8h0M206.0 206.7h0M209.0 193.3h0M207.6 225.5h0M216.0 193.5h0M193.7 255.6h0M206.1 191.0h0M207.8 188.9h0M199.5 241.2h0M205.4 217.0h0M202.2 234.9h0M198.4 243.9h0M209.6 196.9h0M210.5 209.2h0M204.7 225.4h0M212.1 214.5h0M198.8 249.4h0M205.5 226.3h0M225.3 193.0h0M194.1 252.1h0M207.7 212.4h0M189.3 256.7h0M202.3 232.7h0M202.2 233.8h0M201.9 234.1h0M212.0 213.5h0M210.9 205.9h0M205.6 218.8h0M191.4 255.0h0M204.2 228.3h0M192.4 255.4h0M206.4 198.5h0M209.0 204.8h0M205.9 206.8h0M205.5 185.0h0M208.8 183.0h0M210.0 210.6h0M205.9 227.3h0M201.3 242.6h0M196.4 252.1h0M195.1 250.4h0M201.4 237.1h0M205.9 220.0h0M201.1 238.6h0M197.1 245.8h0M216.0 192.0h0M199.9 239.1h0M205.0 184.4h0M205.5 208.5h0M206.9 189.6h0M205.7 183.1h0M206.0 184.0h0M201.5 240.4h0M204.8 229.1h0M206.1 196.6h0M224.5 196.5h0M204.5 245.5h0M207.8 229.8h0M197.3 246.1h0M200.8 244.6h0M209.4 203.7h0M208.4 195.4h0M189.5 257.6h0M205.2 195.0h0M205.5 204.0h0M209.6 193.1h0M208.3 206.5h0M220.5 206.6h0M215.0 192.9h0M206.6 204.6h0M206.6 204.4h0M207.7 206.0h0M206.1 194.3h0M207.0 204.1h0M206.0 191.2h0M206.2 213.8h0M205.5 223.8h0M202.8 234.8h0M207.2 202.7h0M206.3 230.8h0M196.5 246.8h0M205.2 224.2h0M225.0 198.6h0M208.6 198.9h0M200.1 248.6h0M205.7 191.1h0M205.2 188.6h0M194.2 252.7h0M206.4 194.1h0M201.4 240.5h0M215.7 182.2h0M206.7 196.8h0M209.4 189.9h0M204.0 230.1h0M211.0 211.3h0M200.6 240.2h0M207.4 201.3h0M206.6 213.4h0M198.1 245.9h0M210.2 211.1h0M207.1 226.0h0M208.2 182.7h0M205.0 190.9h0M210.8 201.9h0M193.3 252.8h0M205.4 219.5h0M205.7 190.7h0M195.6 253.5h0M206.9 201.9h0M211.9 183.2h0M207.5 184.0h0M205.8 214.2h0M192.3 255.4h0M205.0 183.4h0M199.4 240.4h0M205.3 186.6h0M187.1 258.3h0M210.0 193.6h0M208.1 211.5h0M192.2 259.7h0M207.2 223.7h0M196.7 248.3h0M202.1 238.1h0M205.2 213.4h0M214.0 200.7h0M209.7 220.1h0M203.4 234.3h0M198.1 244.9h0M203.1 234.0h0M209.4 209.5h0M209.0 187.5h0M191.7 256.9h0M210.0 218.5h0M207.7 213.4h0M215.5 199.3h0M195.6 250.7h0M196.9 248.5h0M197.5 249.0h0M205.7 234.3h0M202.9 238.6h0M205.3 218.9h0M214.7 191.8h0M208.6 196.2h0M213.2 194.5h0M192.1 256.5h0M207.0 185.0h0M206.9 219.1h0M207.0 193.6h0M198.2 253.7h0M196.4 252.9h0M203.1 234.6h0M202.1 233.5h0M205.0 194.1h0M205.0 190.7h0M206.6 212.0h0M196.4 249.2h0M216.4 194.5h0M195.1 253.5h0M218.4 183.8h0M206.3 231.2h0M219.6 196.7h0M204.6 223.9h0M207.5 209.0h0M211.1 197.8h0M207.2 198.4h0M206.2 204.8h0M195.3 250.9h0M201.4 240.6h0M205.3 204.1h0M204.9 223.0h0M195.1 250.2h0M200.1 238.3h0M205.6 203.1h0M197.2 248.5h0M202.2 233.5h0M210.1 206.1h0M203.3 229.8h0M205.1 221.1h0M193.7 253.3h0M211.7 195.3h0M205.1 188.7h0M202.6 237.5h0M205.3 222.2h0M162.4 259.3h0M160.2 260.6h0M171.0 259.8h0M175.5 261.8h0M182.8 259.8h0M179.9 262.6h0M167.6 262.1h0M177.6 262.8h0M180.5 259.8h0M177.1 261.8h0M183.0 261.1h0M177.7 262.3h0M167.0 259.3h0M172.1 263.4h0M163.9 261.8h0M178.3 261.6h0M189.1 262.4h0M169.4 261.1h0M170.0 259.7h0M188.9 261.0h0M180.3 261.3h0M160.4 262.3h0M176.2 260.0h0M164.5 259.3h0M180.2 262.4h0M163.5 259.6h0M174.2 262.8h0M181.6 260.4h0M189.8 262.0h0M183.1 259.5h0M167.4 261.1h0M160.6 261.2h0M163.3 259.6h0M181.3 262.1h0M169.2 260.1h0M171.6 262.5h0M188.4 260.6h0M176.1 261.4h0M161.2 261.7h0M183.7 260.8h0M186.7 261.9h0M174.3 260.4h0M165.6 260.1h0M166.0 259.4h0M173.2 259.7h0M182.9 260.8h0M176.2 262.5h0M174.1 262.0h0M175.1 260.4h0M188.6 261.8h0M162.0 262.7h0M162.7 261.9h0M185.5 261.8h0M163.6 262.1h0M165.9 260.9h0M181.3 262.0h0M170.7 262.3h0M166.2 261.7h0M188.1 263.2h0M176.9 259.1h0M166.9 262.2h0M160.1 259.1h0M160.4 262.2h0M184.0 260.7h0M181.2 259.2h0M171.7 260.9h0M170.6 261.2h0M180.1 262.9h0M163.6 260.7h0M190.0 261.3h0M162.0 263.0h0M174.1 260.6h0M163.4 260.8h0M176.0 259.8h0M181.5 262.2h0M180.2 262.0h0M166.5 259.0h0M167.7 260.5h0M172.0 260.7h0M160.3 260.5h0M188.7 262.9h0M168.2 261.8h0M187.4 261.0h0M180.9 261.7h0M189.4 262.2h0M163.2 261.9h0M187.7 261.3h0M161.5 259.6h0M162.1 259.2h0M183.1 259.7h0M182.0 261.7h0M170.6 261.5h0M165.1 262.5h0M172.5 260.6h0M182.8 262.1h0M178.2 261.6h0M177.8 260.3h0M173.2 262.8h0M175.2 262.4h0M178.2 261.3h0M166.5 259.6h0M176.1 259.8h0M181.2 262.0h0M170.0 259.9h0M179.6 259.7h0M168.2 260.9h0M188.5 260.0h0M189.7 261.2h0M166.5 260.4h0M187.4 262.2h0M185.9 259.7h0M187.1 261.6h0M172.8 263.3h0M165.4 263.2h0M173.3 261.0h0M174.5 260.1h0M163.3 262.4h0M175.8 261.2h0M179.3 259.9h0M177.1 260.1h0M122.3 224.4h0M135.1 252.9h0M125.2 218.9h0M107.4 198.5h0M112.5 239.2h0M131.8 244.9h0M135.4 250.0h0M122.0 229.1h0M113.1 230.7h0M146.1 252.5h0M133.0 238.5h0M109.2 217.7h0M140.6 255.9h0M125.6 239.0h0M134.8 248.9h0M135.4 198.6h0M126.8 239.3h0M131.6 236.9h0M119.9 231.1h0M128.1 221.2h0M133.7 197.1h0M118.2 228.8h0M134.1 199.7h0M130.6 230.9h0M138.4 241.8h0M136.0 240.1h0M142.0 250.3h0M114.8 191.9h0M135.8 240.2h0M106.9 216.6h0M112.7 202.7h0M129.4 223.9h0M132.1 245.8h0M140.4 247.1h0M130.0 223.7h0M127.5 203.1h0M121.7 185.7h0M125.0 201.9h0M134.5 252.1h0M134.3 187.3h0M108.2 217.8h0M128.9 179.9h0M111.6 245.6h0M128.8 195.4h0M136.4 244.9h0M135.9 198.8h0M128.6 196.5h0M132.4 237.0h0M137.1 251.5h0M114.2 220.1h0M130.7 211.2h0M132.6 244.2h0M122.6 197.7h0M141.7 252.2h0M127.2 187.7h0M133.2 216.1h0M134.1 255.0h0M131.4 187.5h0M131.2 204.0h0M133.2 201.0h0M122.4 233.5h0M123.6 234.4h0M130.5 224.5h0M121.4 190.5h0M132.0 232.5h0M134.5 190.3h0M141.8 248.5h0M132.4 186.9h0M127.5 223.1h0M141.2 253.3h0M133.0 239.6h0M142.6 256.3h0M115.6 235.9h0M113.9 195.7h0M130.6 230.3h0M133.3 209.2h0M124.4 213.5h0M133.9 186.0h0M136.1 238.0h0M120.2 227.5h0M133.5 223.7h0M131.9 195.7h0M140.3 254.4h0M122.3 234.2h0M121.7 205.1h0M131.9 180.3h0M138.4 243.2h0M127.5 230.4h0M125.5 191.8h0M105.4 198.6h0M125.2 206.5h0M138.7 254.0h0M122.6 217.6h0M128.9 227.8h0M114.8 184.5h0M140.6 251.8h0M119.8 215.1h0M133.7 218.0h0M132.4 192.2h0M146.9 254.2h0M115.6 195.7h0M131.8 253.9h0M133.4 192.1h0M134.2 198.8h0M134.0 200.8h0M132.3 235.7h0M131.3 210.9h0M134.3 209.3h0M112.3 207.2h0M128.7 193.1h0M132.2 206.8h0M131.1 182.8h0M141.3 247.3h0M131.8 196.1h0M139.1 245.1h0M147.4 253.7h0M118.5 223.9h0M124.8 223.3h0M125.8 213.8h0M145.9 257.4h0M132.1 229.7h0M145.7 255.0h0M103.1 191.7h0M132.1 219.5h0M127.4 245.3h0M128.0 179.9h0M106.5 179.6h0M134.4 229.6h0M126.2 238.7h0M121.7 189.0h0M216.7 225.9h0M197.4 253.7h0M221.3 193.3h0M223.5 192.1h0M224.6 196.0h0M225.3 211.5h0M209.9 227.2h0M228.6 220.2h0M222.9 190.2h0M205.3 244.1h0M214.9 197.2h0M213.6 240.1h0M220.4 204.2h0M215.8 194.9h0M206.2 238.7h0M221.8 224.2h0M198.0 255.7h0M223.6 215.6h0M238.5 189.7h0M217.2 208.2h0M193.1 257.6h0M211.1 198.9h0M211.1 234.1h0M239.4 198.3h0M221.2 202.0h0M238.7 207.6h0M200.5 251.2h0M199.7 254.2h0M209.5 229.8h0M213.5 234.0h0M218.5 226.0h0M210.3 216.5h0M200.5 251.2h0M211.2 227.8h0M212.8 182.7h0M212.0 186.6h0M219.2 246.6h0M206.6 243.4h0M215.6 182.0h0M214.5 192.7h0M211.6 198.2h0M242.1 233.5h0M222.2 244.1h0M229.2 198.1h0M209.3 239.8h0M199.8 255.9h0M211.3 181.7h0M225.5 204.1h0M217.2 224.0h0M222.9 181.0h0M225.9 223.0h0M212.7 213.4h0M220.7 203.8h0M207.6 235.8h0M196.9 254.1h0M217.5 197.9h0M206.3 242.6h0M214.1 232.5h0M214.4 211.6h0M211.0 190.1h0M216.2 236.5h0M201.0 252.6h0M233.5 215.2h0M194.6 256.8h0M201.0 254.2h0M217.3 191.1h0M217.4 179.7h0M217.7 220.6h0M230.8 205.5h0M213.0 231.6h0M223.2 227.6h0M218.0 227.4h0M201.6 251.1h0M204.4 247.3h0M227.8 180.4h0M223.7 208.0h0M220.7 220.1h0M218.5 217.7h0M212.5 196.7h0M233.8 232.0h0M206.8 251.0h0M209.1 230.8h0M210.2 233.8h0M207.8 241.9h0M219.3 205.6h0M216.1 187.8h0M233.7 227.2h0M227.8 193.5h0M216.7 195.3h0M218.0 214.3h0M212.5 223.3h0M218.2 194.9h0M217.4 200.4h0M210.0 240.8h0M208.7 236.6h0M202.6 246.4h0M195.6 256.1h0M213.8 223.3h0M212.9 209.9h0M227.1 182.1h0M66.3 192.8h0M72.5 204.2h0M87.2 188.7h0M107.7 183.3h0M107.7 202.2h0M105.8 216.7h0M109.5 220.0h0M121.3 182.5h0M118.7 191.7h0M241.7 179.4h0M248.8 195.5h0M242.4 180.8h0M236.8 188.8h0M230.7 183.2h0M278.1 185.0h0M254.2 204.7h0M236.0 213.9h0M237.6 220.7h0" stroke="#ADD8E6" stroke-width="2.4" stroke-linecap="round" fill="none"/>
<path d="M127.5 80.3h0M115.0 93.8h0M70.0 100.0h0M147.8 100.8h0M125.7 107.3h0M128.1 108.0h0M135.5 108.4h0M302.0 69.3h0M225.0 95.9h0M205.5 111.2h0M115.5 119.5h0M119.3 122.2h0M131.4 118.4h0M134.9 120.1h0M143.9 116.0h0M146.9 116.2h0M152.1 118.5h0M141.1 123.6h0M132.9 126.4h0M116.4 132.6h0M121.8 130.7h0M130.8 133.2h0M144.7 132.0h0M130.0 136.7h0M142.0 137.9h0M136.9 141.3h0M140.6 142.4h0M149.6 141.6h0M150.7 140.3h0M148.9 142.3h0M122.6 145.1h0M125.4 147.6h0M129.2 147.9h0M139.8 148.7h0M145.0 146.2h0M146.4 148.0h0M126.2 153.2h0M127.5 153.2h0M136.0 152.9h0M137.6 153.7h0M142.5 151.5h0M145.6 152.4h0M148.5 153.5h0M114.7 157.9h0M122.6 158.6h0M126.0 161.1h0M137.6 156.5h0M140.4 155.4h0M142.0 155.9h0M142.0 157.9h0M144.7 158.6h0M146.9 157.0h0M148.0 155.4h0M145.8 160.3h0M147.5 161.4h0M142.0 162.5h0M152.4 160.3h0M153.5 162.5h0M129.2 163.8h0M131.6 166.3h0M133.3 167.4h0M136.0 163.5h0M138.7 164.4h0M135.5 166.8h0M137.1 167.9h0M140.4 167.4h0M141.2 168.5h0M145.3 166.8h0M149.1 166.3h0M150.7 165.7h0M148.5 168.5h0M114.0 166.8h0M115.0 171.5h0M128.4 171.5h0M125.3 174.2h0M130.0 175.3h0M135.1 169.9h0M137.1 171.2h0M138.2 172.8h0M139.1 173.9h0M144.7 170.6h0M152.9 172.3h0M140.9 176.6h0M143.1 176.1h0M145.3 175.5h0M146.4 176.6h0M148.0 175.3h0M149.6 176.1h0M150.7 176.6h0M152.4 176.6h0M142.0 177.2h0M144.2 177.7h0M145.6 147.7h0M146.0 152.2h0M147.9 153.5h0M148.2 156.1h0M146.6 159.4h0M147.3 161.3h0M147.6 163.2h0M150.2 165.8h0M151.2 167.1h0M148.9 168.4h0M146.3 167.1h0M145.6 174.9h0M147.0 176.2h0M148.9 175.6h0M150.8 176.2h0M152.1 176.9h0M86.6 146.9h0M90.1 169.5h0M204.4 116.1h0M206.3 120.1h0M203.0 121.0h0M203.3 123.7h0M218.6 124.0h0M203.5 124.4h0M204.1 126.0h0M198.6 134.7h0M199.2 137.7h0M209.9 133.1h0M209.5 140.4h0M217.7 138.8h0M220.5 136.9h0M238.5 136.4h0M228.1 147.3h0M228.6 148.9h0M206.3 149.5h0M224.3 149.5h0M206.2 150.1h0M212.7 151.0h0M224.2 150.1h0M204.9 154.3h0M219.1 153.5h0M216.0 159.2h0M218.7 159.2h0M195.8 162.7h0M198.5 162.2h0M204.5 163.3h0M207.8 161.1h0M212.5 161.6h0M225.3 161.6h0M228.5 163.5h0M195.3 165.7h0M198.5 166.6h0M200.7 165.9h0M197.5 167.9h0M207.8 165.7h0M211.6 165.9h0M217.6 165.5h0M204.9 168.5h0M208.4 168.5h0M190.6 170.3h0M199.6 170.3h0M199.9 171.7h0M212.7 171.4h0M217.1 170.6h0M224.2 167.9h0M227.5 170.6h0M221.2 172.1h0M196.1 173.9h0M206.2 173.1h0M190.9 175.5h0M192.5 176.1h0M194.2 177.2h0M198.0 175.8h0M200.2 175.5h0M201.8 176.6h0M205.1 175.8h0M206.0 177.2h0M207.8 176.1h0M211.6 175.5h0M212.5 177.2h0M223.1 177.2h0M224.7 176.9h0M196.4 177.7h0M252.8 142.0h0M254.7 143.1h0M249.1 175.3h0" stroke="#FF0000" stroke-width="2.7" stroke-linecap="round" fill="none"/>
</g>
<g font-size="6.1" fill="#000" stroke="#000" stroke-width="0.15">
<text x="123.0" y="77.6">ABCA1</text>
<text x="83.7" y="96.6">SELENOO</text>
<text x="56.9" y="107.2">DUSP1</text>
<text x="144.9" y="98.2">DNM2</text>
<text x="108.9" y="105.2">DYNLL2</text>
<text x="135.4" y="107.4">CMIP</text>
<text x="108.2" y="116.0">TMEM127</text>
<text x="202.9" y="109.2">GALT</text>
<text x="212.7" y="102.5">CTF1</text>
<text x="286.7" y="66.5">GPR15</text>
</g>
<path d="M52.8 205.5H55M52.8 147.9H55M52.8 90.4H55M52.8 32.8H55M112.0 263V265.2M174.0 263V265.2M236.0 263V265.2M298.0 263V265.2" stroke="#333" stroke-width="1" fill="none"/>
<g font-size="8.7" fill="#333">
<text x="47.7" y="208.7" text-anchor="end">2</text>
<text x="47.7" y="151.1" text-anchor="end">4</text>
<text x="47.7" y="93.6" text-anchor="end">6</text>
<text x="47.7" y="36.0" text-anchor="end">8</text>
<text x="111.5" y="276.8" text-anchor="middle">-0.25</text>
<text x="173.5" y="276.8" text-anchor="middle">0.00</text>
<text x="235.5" y="276.8" text-anchor="middle">0.25</text>
<text x="297.5" y="276.8" text-anchor="middle">0.50</text>
</g>
<text x="164.8" y="288" font-size="10">-Log2(FC)</text>
<text transform="translate(30.2 152) rotate(-90)" font-size="10" text-anchor="middle">-Log10(p-value)</text>
<text x="15" y="23.3" font-size="15.5" font-weight="bold">A</text>
<text x="72" y="308.8" font-size="10">Differential expression</text>
<rect x="177" y="300" width="10" height="10" fill="#F2F2F2"/>
<rect x="248" y="300" width="10" height="10" fill="#F2F2F2"/>
<circle cx="182.1" cy="305.5" r="1.2" fill="#ADD8E6"/>
<circle cx="253.3" cy="305.5" r="1.2" fill="#FF0000"/>
<text x="195.3" y="309.7" font-size="10">FDR &gt;0.1</text>
<text x="267.9" y="309.7" font-size="10">FDR &lt;=0.1</text>
<text x="15.8" y="345.6" font-size="15" font-weight="bold">B</text>
<path d="M90.3 380.0V487.4M86.9 486.8H90.3M86.9 469.1H90.3M86.9 451.4H90.3M86.9 433.7H90.3M86.9 416.0H90.3M86.9 398.3H90.3M86.9 380.6H90.3" stroke="#111" stroke-width="1.3" fill="none"/>
<g font-size="9" font-weight="bold" text-anchor="end">
<text x="85.6" y="490.1">5</text>
<text x="85.6" y="472.4">6</text>
<text x="85.6" y="454.7">7</text>
<text x="85.6" y="437.0">8</text>
<text x="85.6" y="419.3">9</text>
<text x="85.6" y="401.6">10</text>
<text x="85.6" y="383.9">11</text>
</g>
<path d="M101.5 497.8H266.0M142.8 497.8V500.8M224.6 497.8V500.8" stroke="#111" stroke-width="1.3" fill="none"/>
<g font-size="9" text-anchor="middle" fill="#222">
<text x="143.0" y="493.0">112</text><text x="224.8" y="493.0">112</text>
</g>
<g font-size="9" font-weight="bold" text-anchor="middle">
<text x="142.8" y="510.8">Controls</text>
<text x="224.6" y="510.6">Early onset</text>
<text x="224.6" y="520.6">MI subjects</text>
</g>
<text x="183.2" y="363.7" font-size="11.2" text-anchor="middle">Discovery</text>
<text x="143.5" y="381.4" font-size="8.4" fill="#222">FC=1.43, p=1.87x10<tspan dy="-3.5" font-size="5.5">-7</tspan></text>
<path d="M142.6 385.5H225.0" stroke="#333" stroke-width="0.9"/>
<text transform="translate(58.6 433) rotate(-90)" font-size="9.5" font-weight="bold" text-anchor="middle"><tspan font-style="italic">GPR15</tspan> mRNA expression</text>
<text transform="translate(70.0 433) rotate(-90)" font-size="9.5" text-anchor="middle">[log2 intensity]</text>
<text x="316.3" y="345.6" font-size="15" font-weight="bold">C</text>
<path d="M359.4 379.6V487.0M356.0 486.4H359.4M356.0 465.2H359.4M356.0 443.9H359.4M356.0 422.7H359.4M356.0 401.4H359.4M356.0 380.2H359.4" stroke="#111" stroke-width="1.3" fill="none"/>
<g font-size="9" font-weight="bold" text-anchor="end">
<text x="355.9" y="489.7">0</text>
<text x="355.9" y="468.5">2</text>
<text x="355.9" y="447.2">4</text>
<text x="355.9" y="426.0">6</text>
<text x="355.9" y="404.7">8</text>
<text x="355.9" y="383.5">10</text>
</g>
<path d="M371.8 497.8H536.4M413.1 497.8V500.8M494.8 497.8V500.8" stroke="#111" stroke-width="1.3" fill="none"/>
<g font-size="9" text-anchor="middle" fill="#222">
<text x="413.3" y="494.8">130</text><text x="495.0" y="494.8">135</text>
</g>
<g font-size="9" font-weight="bold" text-anchor="middle">
<text x="413.1" y="510.8">Controls</text>
<text x="494.8" y="510.6">Early onset</text>
<text x="494.8" y="520.6">MI subjects</text>
</g>
<text x="450.1" y="363.7" font-size="11.2" text-anchor="middle">Replication</text>
<text x="419.0" y="376.6" font-size="8.4" fill="#222">FC=3.0, p&lt;0.0001</text>
<path d="M413.1 379.7H494.7" stroke="#333" stroke-width="0.9"/>
<text transform="translate(329.4 433) rotate(-90)" font-size="9.5" font-weight="bold" text-anchor="middle"><tspan font-style="italic">GPR15</tspan> mRNA expression</text>
<text transform="translate(341.0 433) rotate(-90)" font-size="9.5" text-anchor="middle">[x-fold compared to controls]</text>
<path d="M142.8 401.5h0M142.8 408.7h0M141.8 420.6h0M142.8 420.6h0M143.8 420.6h0M142.8 421.7h0M142.8 422.8h0M142.8 423.9h0M142.8 425.0h0M136.8 426.8h0M138.0 426.6h0M139.2 426.4h0M140.4 426.2h0M141.6 426.1h0M142.8 426.1h0M144.0 426.1h0M145.2 426.2h0M146.4 426.4h0M147.6 426.6h0M148.8 426.8h0M142.8 427.2h0M142.8 428.3h0M142.8 429.4h0M135.0 431.7h0M136.1 431.4h0M137.2 431.1h0M138.3 430.9h0M139.5 430.7h0M140.6 430.6h0M141.7 430.5h0M142.8 430.5h0M143.9 430.5h0M145.0 430.6h0M146.1 430.7h0M147.3 430.9h0M148.4 431.1h0M149.5 431.4h0M150.6 431.7h0M139.0 432.1h0M140.1 431.9h0M141.2 431.9h0M142.3 431.8h0M143.3 431.8h0M144.4 431.9h0M145.5 431.9h0M146.6 432.1h0M139.8 433.2h0M141.0 433.1h0M142.2 433.0h0M143.4 433.0h0M144.6 433.1h0M145.8 433.2h0M140.6 434.3h0M141.7 434.2h0M142.8 434.2h0M143.9 434.2h0M145.0 434.3h0M142.8 435.3h0M142.8 436.4h0M142.8 437.5h0M138.3 438.8h0M139.4 438.6h0M140.6 438.5h0M141.7 438.4h0M142.8 438.4h0M143.9 438.4h0M145.1 438.5h0M146.2 438.6h0M147.3 438.8h0M137.8 440.1h0M138.9 439.9h0M140.0 439.8h0M141.1 439.7h0M142.2 439.6h0M143.4 439.6h0M144.5 439.7h0M145.6 439.8h0M146.7 439.9h0M147.8 440.1h0M137.8 441.2h0M138.9 441.0h0M140.0 440.9h0M141.1 440.8h0M142.2 440.7h0M143.4 440.7h0M144.5 440.8h0M145.6 440.9h0M146.7 441.0h0M147.8 441.2h0M137.6 442.5h0M138.8 442.3h0M139.9 442.2h0M141.1 442.1h0M142.2 442.0h0M143.4 442.0h0M144.5 442.1h0M145.7 442.2h0M146.8 442.3h0M148.0 442.5h0M138.3 443.6h0M139.4 443.4h0M140.6 443.3h0M141.7 443.2h0M142.8 443.2h0M143.9 443.2h0M145.1 443.3h0M146.2 443.4h0M147.3 443.6h0M132.2 446.5h0M133.4 446.1h0M134.6 445.7h0M135.7 445.3h0M136.9 445.0h0M138.1 444.7h0M139.3 444.5h0M140.4 444.4h0M141.6 444.3h0M142.8 444.3h0M144.0 444.3h0M145.2 444.4h0M146.3 444.5h0M147.5 444.7h0M148.7 445.0h0M149.9 445.3h0M151.0 445.7h0M152.2 446.1h0M153.4 446.5h0M138.8 445.8h0M139.9 445.7h0M141.1 445.6h0M142.2 445.5h0M143.4 445.5h0M144.5 445.6h0M145.7 445.7h0M146.8 445.8h0M137.8 447.3h0M138.9 447.1h0M140.0 447.0h0M141.1 446.9h0M142.2 446.8h0M143.4 446.8h0M144.5 446.9h0M145.6 447.0h0M146.7 447.1h0M147.8 447.3h0M137.3 448.6h0M138.4 448.4h0M139.5 448.2h0M140.6 448.1h0M141.7 448.0h0M142.8 448.0h0M143.9 448.0h0M145.0 448.1h0M146.1 448.2h0M147.2 448.4h0M148.3 448.6h0M136.2 450.1h0M137.4 449.8h0M138.6 449.6h0M139.8 449.4h0M141.0 449.3h0M142.2 449.2h0M143.4 449.2h0M144.6 449.3h0M145.8 449.4h0M147.0 449.6h0M148.2 449.8h0M149.4 450.1h0M138.8 450.7h0M139.9 450.6h0M141.1 450.5h0M142.2 450.4h0M143.4 450.4h0M144.5 450.5h0M145.7 450.6h0M146.8 450.7h0M139.3 451.7h0M140.5 451.6h0M141.6 451.5h0M142.8 451.5h0M144.0 451.5h0M145.1 451.6h0M146.3 451.7h0M133.1 454.5h0M134.2 454.1h0M135.4 453.7h0M136.5 453.4h0M137.7 453.1h0M138.8 452.9h0M139.9 452.8h0M141.1 452.7h0M142.2 452.6h0M143.4 452.6h0M144.5 452.7h0M145.7 452.8h0M146.8 452.9h0M147.9 453.1h0M149.1 453.4h0M150.2 453.7h0M151.4 454.1h0M152.5 454.5h0M137.8 454.4h0M138.9 454.2h0M140.0 454.1h0M141.1 454.0h0M142.2 453.9h0M143.4 453.9h0M144.5 454.0h0M145.6 454.1h0M146.7 454.2h0M147.8 454.4h0M138.3 455.6h0M139.4 455.4h0M140.6 455.3h0M141.7 455.2h0M142.8 455.2h0M143.9 455.2h0M145.1 455.3h0M146.2 455.4h0M147.3 455.6h0M138.3 456.9h0M139.4 456.7h0M140.6 456.6h0M141.7 456.5h0M142.8 456.5h0M143.9 456.5h0M145.1 456.6h0M146.2 456.7h0M147.3 456.9h0M140.3 457.9h0M141.6 457.8h0M142.8 457.8h0M144.1 457.8h0M145.3 457.9h0M142.8 460.2h0M141.2 464.1h0M142.3 464.0h0M143.3 464.0h0M144.4 464.1h0M140.3 412.8h0M142.9 414.4h0M145.6 412.6h0M141.5 413.8h0M144.3 413.6h0M412.7 455.5h0M412.1 457.2h0M413.3 457.2h0M412.7 458.5h0M412.7 460.6h0M412.7 461.8h0M409.4 463.3h0M411.1 463.2h0M412.7 463.2h0M414.3 463.2h0M416.0 463.3h0M408.5 465.6h0M410.2 465.5h0M411.9 465.4h0M413.5 465.4h0M415.2 465.5h0M416.9 465.6h0M411.9 466.6h0M413.5 466.6h0M404.7 468.3h0M406.5 468.1h0M408.3 467.9h0M410.0 467.8h0M411.8 467.7h0M413.6 467.7h0M415.4 467.8h0M417.1 467.9h0M418.9 468.1h0M420.7 468.3h0M406.7 469.2h0M408.4 469.0h0M410.1 468.9h0M411.8 468.8h0M413.6 468.8h0M415.3 468.9h0M417.0 469.0h0M418.7 469.2h0M403.7 470.8h0M405.5 470.5h0M407.3 470.3h0M409.1 470.1h0M410.9 470.0h0M412.7 470.0h0M414.5 470.0h0M416.3 470.1h0M418.1 470.3h0M419.9 470.5h0M421.7 470.8h0M404.7 471.7h0M406.5 471.5h0M408.3 471.3h0M410.0 471.2h0M411.8 471.1h0M413.6 471.1h0M415.4 471.2h0M417.1 471.3h0M418.9 471.5h0M420.7 471.7h0M402.2 473.3h0M403.9 473.0h0M405.7 472.7h0M407.4 472.5h0M409.2 472.3h0M410.9 472.2h0M412.7 472.2h0M414.4 472.2h0M416.2 472.3h0M417.9 472.5h0M419.7 472.7h0M421.4 473.0h0M423.2 473.3h0M401.2 474.7h0M403.0 474.3h0M404.7 474.0h0M406.5 473.8h0M408.3 473.6h0M410.0 473.5h0M411.8 473.4h0M413.6 473.4h0M415.4 473.5h0M417.1 473.6h0M418.9 473.8h0M420.7 474.0h0M422.4 474.3h0M424.2 474.7h0M401.7 475.7h0M403.4 475.4h0M405.1 475.1h0M406.8 474.9h0M408.5 474.7h0M410.2 474.6h0M411.9 474.5h0M413.5 474.5h0M415.2 474.6h0M416.9 474.7h0M418.6 474.9h0M420.3 475.1h0M422.0 475.4h0M423.7 475.7h0M400.2 477.3h0M402.0 476.8h0M403.8 476.5h0M405.6 476.2h0M407.3 476.0h0M409.1 475.8h0M410.9 475.7h0M412.7 475.7h0M414.5 475.7h0M416.3 475.8h0M418.1 476.0h0M419.8 476.2h0M421.6 476.5h0M423.4 476.8h0M425.2 477.3h0M399.2 478.6h0M401.0 478.2h0M402.8 477.8h0M404.6 477.5h0M406.4 477.2h0M408.2 477.0h0M410.0 476.9h0M411.8 476.8h0M413.6 476.8h0M415.4 476.9h0M417.2 477.0h0M419.0 477.2h0M420.8 477.5h0M422.6 477.8h0M424.4 478.2h0M426.2 478.6h0M397.7 480.2h0M399.5 479.8h0M401.2 479.3h0M403.0 478.9h0M404.8 478.6h0M406.5 478.4h0M408.3 478.2h0M410.1 478.1h0M411.8 478.0h0M413.6 478.0h0M415.3 478.1h0M417.1 478.2h0M418.9 478.4h0M420.6 478.6h0M422.4 478.9h0M424.2 479.3h0M425.9 479.8h0M427.7 480.2h0M394.2 482.6h0M396.0 482.0h0M397.7 481.4h0M399.5 480.9h0M401.2 480.5h0M403.0 480.1h0M404.8 479.8h0M406.5 479.6h0M408.3 479.4h0M410.1 479.3h0M411.8 479.2h0M413.6 479.2h0M415.3 479.3h0M417.1 479.4h0M418.9 479.6h0M420.6 479.8h0M422.4 480.1h0M424.2 480.5h0M425.9 480.9h0M427.7 481.4h0M429.4 482.0h0M431.2 482.6h0M393.7 484.0h0M395.4 483.4h0M397.2 482.8h0M398.9 482.3h0M400.6 481.9h0M402.3 481.5h0M404.1 481.1h0M405.8 480.9h0M407.5 480.7h0M409.2 480.5h0M411.0 480.4h0M412.7 480.4h0M414.4 480.4h0M416.2 480.5h0M417.9 480.7h0M419.6 480.9h0M421.3 481.1h0M423.1 481.5h0M424.8 481.9h0M426.5 482.3h0M428.2 482.8h0M430.0 483.4h0M431.7 484.0h0M395.7 484.4h0M397.5 483.8h0M399.3 483.3h0M401.1 482.9h0M402.9 482.5h0M404.6 482.1h0M406.4 481.9h0M408.2 481.7h0M410.0 481.6h0M411.8 481.5h0M413.6 481.5h0M415.4 481.6h0M417.2 481.7h0M419.0 481.9h0M420.8 482.1h0M422.5 482.5h0M424.3 482.9h0M426.1 483.3h0M427.9 483.8h0M429.7 484.4h0M398.7 484.6h0M400.4 484.1h0M402.2 483.7h0M403.9 483.4h0M405.7 483.1h0M407.4 482.9h0M409.2 482.7h0M410.9 482.6h0M412.7 482.6h0M414.4 482.6h0M416.2 482.7h0M417.9 482.9h0M419.7 483.1h0M421.4 483.4h0M423.2 483.7h0M424.9 484.1h0M426.7 484.6h0M401.2 484.9h0M403.0 484.5h0M404.7 484.2h0M406.5 484.0h0M408.3 483.8h0M410.0 483.7h0M411.8 483.6h0M413.6 483.6h0M415.4 483.7h0M417.1 483.8h0M418.9 484.0h0M420.7 484.2h0M422.4 484.5h0M424.2 484.9h0M405.7 485.1h0M407.4 484.9h0M409.2 484.7h0M410.9 484.6h0M412.7 484.6h0M414.4 484.6h0M416.2 484.7h0M417.9 484.9h0M419.7 485.1h0" stroke="#000" stroke-width="2.0" stroke-linecap="round" fill="none"/>
<g fill="none" stroke="#B8121E" stroke-width="0.85">
<circle cx="224.5" cy="393.2" r="0.8"/><circle cx="224.5" cy="396.1" r="0.8"/><circle cx="222.8" cy="402.7" r="0.8"/><circle cx="226.2" cy="403.3" r="0.8"/><circle cx="221.2" cy="406.3" r="0.8"/><circle cx="223.4" cy="407.2" r="0.8"/><circle cx="225.6" cy="406.6" r="0.8"/><circle cx="227.8" cy="406.9" r="0.8"/><circle cx="223.5" cy="408.0" r="0.8"/><circle cx="225.5" cy="408.6" r="0.8"/><circle cx="219.5" cy="410.8" r="0.8"/><circle cx="222.0" cy="411.9" r="0.8"/><circle cx="224.5" cy="411.4" r="0.8"/><circle cx="227.0" cy="411.9" r="0.8"/><circle cx="229.5" cy="410.8" r="0.8"/><circle cx="223.5" cy="414.1" r="0.8"/><circle cx="225.5" cy="414.7" r="0.8"/><circle cx="219.6" cy="416.1" r="0.8"/><circle cx="222.1" cy="417.2" r="0.8"/><circle cx="224.5" cy="416.7" r="0.8"/><circle cx="226.9" cy="417.2" r="0.8"/><circle cx="229.4" cy="416.1" r="0.8"/><circle cx="220.5" cy="418.0" r="0.8"/><circle cx="223.2" cy="419.0" r="0.8"/><circle cx="225.8" cy="418.4" r="0.8"/><circle cx="228.5" cy="418.6" r="0.8"/><circle cx="222.5" cy="419.6" r="0.8"/><circle cx="224.5" cy="420.3" r="0.8"/><circle cx="226.5" cy="419.6" r="0.8"/><circle cx="217.1" cy="421.3" r="0.8"/><circle cx="219.6" cy="422.6" r="0.8"/><circle cx="222.0" cy="422.5" r="0.8"/><circle cx="224.5" cy="423.3" r="0.8"/><circle cx="227.0" cy="422.5" r="0.8"/><circle cx="229.4" cy="422.6" r="0.8"/><circle cx="231.9" cy="421.3" r="0.8"/><circle cx="220.7" cy="424.5" r="0.8"/><circle cx="223.2" cy="425.4" r="0.8"/><circle cx="225.8" cy="424.8" r="0.8"/><circle cx="228.3" cy="425.1" r="0.8"/><circle cx="216.5" cy="425.6" r="0.8"/><circle cx="218.8" cy="427.0" r="0.8"/><circle cx="221.1" cy="426.9" r="0.8"/><circle cx="223.4" cy="427.8" r="0.8"/><circle cx="225.6" cy="427.2" r="0.8"/><circle cx="227.9" cy="427.5" r="0.8"/><circle cx="230.2" cy="426.4" r="0.8"/><circle cx="232.5" cy="426.2" r="0.8"/><circle cx="220.5" cy="429.2" r="0.8"/><circle cx="223.2" cy="430.2" r="0.8"/><circle cx="225.8" cy="429.6" r="0.8"/><circle cx="228.5" cy="429.8" r="0.8"/><circle cx="219.5" cy="430.7" r="0.8"/><circle cx="222.0" cy="431.8" r="0.8"/><circle cx="224.5" cy="431.3" r="0.8"/><circle cx="227.0" cy="431.8" r="0.8"/><circle cx="229.5" cy="430.7" r="0.8"/><circle cx="222.0" cy="432.6" r="0.8"/><circle cx="224.5" cy="433.4" r="0.8"/><circle cx="227.0" cy="432.6" r="0.8"/><circle cx="222.5" cy="434.8" r="0.8"/><circle cx="224.5" cy="435.5" r="0.8"/><circle cx="226.5" cy="434.8" r="0.8"/><circle cx="220.5" cy="437.9" r="0.8"/><circle cx="223.2" cy="438.9" r="0.8"/><circle cx="225.8" cy="438.3" r="0.8"/><circle cx="228.5" cy="438.5" r="0.8"/><circle cx="219.0" cy="439.8" r="0.8"/><circle cx="221.8" cy="441.0" r="0.8"/><circle cx="224.5" cy="440.6" r="0.8"/><circle cx="227.2" cy="441.0" r="0.8"/><circle cx="230.0" cy="439.8" r="0.8"/><circle cx="220.5" cy="442.6" r="0.8"/><circle cx="223.2" cy="443.6" r="0.8"/><circle cx="225.8" cy="443.0" r="0.8"/><circle cx="228.5" cy="443.2" r="0.8"/><circle cx="221.5" cy="444.2" r="0.8"/><circle cx="224.5" cy="445.0" r="0.8"/><circle cx="227.5" cy="444.2" r="0.8"/><circle cx="221.5" cy="446.4" r="0.8"/><circle cx="224.5" cy="447.2" r="0.8"/><circle cx="227.5" cy="446.4" r="0.8"/><circle cx="219.5" cy="447.8" r="0.8"/><circle cx="222.0" cy="448.9" r="0.8"/><circle cx="224.5" cy="448.4" r="0.8"/><circle cx="227.0" cy="448.9" r="0.8"/><circle cx="229.5" cy="447.8" r="0.8"/><circle cx="221.5" cy="450.9" r="0.8"/><circle cx="224.5" cy="451.7" r="0.8"/><circle cx="227.5" cy="450.9" r="0.8"/><circle cx="223.0" cy="452.5" r="0.8"/><circle cx="226.0" cy="453.1" r="0.8"/><circle cx="224.5" cy="456.6" r="0.8"/><circle cx="494.6" cy="390.9" r="0.8"/><circle cx="494.6" cy="396.1" r="0.8"/><circle cx="494.6" cy="399.4" r="0.8"/><circle cx="492.4" cy="400.5" r="0.8"/><circle cx="494.6" cy="401.2" r="0.8"/><circle cx="496.8" cy="400.5" r="0.8"/><circle cx="494.6" cy="402.4" r="0.8"/><circle cx="494.6" cy="405.0" r="0.8"/><circle cx="494.6" cy="410.2" r="0.8"/><circle cx="494.6" cy="413.0" r="0.8"/><circle cx="490.9" cy="414.9" r="0.8"/><circle cx="493.4" cy="415.8" r="0.8"/><circle cx="495.8" cy="415.2" r="0.8"/><circle cx="498.3" cy="415.5" r="0.8"/><circle cx="494.6" cy="418.3" r="0.8"/><circle cx="493.6" cy="420.5" r="0.8"/><circle cx="495.6" cy="421.1" r="0.8"/><circle cx="494.6" cy="424.6" r="0.8"/><circle cx="491.6" cy="424.9" r="0.8"/><circle cx="494.6" cy="425.8" r="0.8"/><circle cx="497.6" cy="424.9" r="0.8"/><circle cx="492.9" cy="427.1" r="0.8"/><circle cx="496.3" cy="427.7" r="0.8"/><circle cx="491.6" cy="429.2" r="0.8"/><circle cx="494.6" cy="430.0" r="0.8"/><circle cx="497.6" cy="429.2" r="0.8"/><circle cx="492.1" cy="430.5" r="0.8"/><circle cx="494.6" cy="431.3" r="0.8"/><circle cx="497.1" cy="430.5" r="0.8"/><circle cx="494.6" cy="433.7" r="0.8"/><circle cx="491.5" cy="435.3" r="0.8"/><circle cx="493.6" cy="436.2" r="0.8"/><circle cx="495.6" cy="435.6" r="0.8"/><circle cx="497.7" cy="435.9" r="0.8"/><circle cx="492.1" cy="437.2" r="0.8"/><circle cx="494.6" cy="438.0" r="0.8"/><circle cx="497.1" cy="437.2" r="0.8"/><circle cx="493.8" cy="439.0" r="0.8"/><circle cx="495.4" cy="439.6" r="0.8"/><circle cx="487.7" cy="440.7" r="0.8"/><circle cx="490.0" cy="442.0" r="0.8"/><circle cx="492.3" cy="441.8" r="0.8"/><circle cx="494.6" cy="442.5" r="0.8"/><circle cx="496.9" cy="441.8" r="0.8"/><circle cx="499.2" cy="442.0" r="0.8"/><circle cx="501.5" cy="440.7" r="0.8"/><circle cx="491.6" cy="442.6" r="0.8"/><circle cx="494.6" cy="443.4" r="0.8"/><circle cx="497.6" cy="442.6" r="0.8"/><circle cx="491.5" cy="445.1" r="0.8"/><circle cx="493.6" cy="446.0" r="0.8"/><circle cx="495.6" cy="445.4" r="0.8"/><circle cx="497.7" cy="445.7" r="0.8"/><circle cx="491.8" cy="449.4" r="0.8"/><circle cx="494.6" cy="450.2" r="0.8"/><circle cx="497.4" cy="449.4" r="0.8"/><circle cx="492.6" cy="450.8" r="0.8"/><circle cx="494.6" cy="451.5" r="0.8"/><circle cx="496.6" cy="450.8" r="0.8"/><circle cx="492.6" cy="453.1" r="0.8"/><circle cx="494.6" cy="453.8" r="0.8"/><circle cx="496.6" cy="453.1" r="0.8"/><circle cx="493.1" cy="455.2" r="0.8"/><circle cx="496.1" cy="455.8" r="0.8"/><circle cx="493.1" cy="458.4" r="0.8"/><circle cx="496.1" cy="459.0" r="0.8"/><circle cx="493.6" cy="461.0" r="0.8"/><circle cx="495.6" cy="461.6" r="0.8"/><circle cx="489.9" cy="462.8" r="0.8"/><circle cx="492.2" cy="463.8" r="0.8"/><circle cx="494.6" cy="463.4" r="0.8"/><circle cx="497.0" cy="463.8" r="0.8"/><circle cx="499.3" cy="462.8" r="0.8"/><circle cx="493.6" cy="466.0" r="0.8"/><circle cx="495.6" cy="466.6" r="0.8"/><circle cx="488.4" cy="468.1" r="0.8"/><circle cx="490.9" cy="469.3" r="0.8"/><circle cx="493.4" cy="469.0" r="0.8"/><circle cx="495.8" cy="469.6" r="0.8"/><circle cx="498.3" cy="468.7" r="0.8"/><circle cx="500.8" cy="468.7" r="0.8"/><circle cx="493.6" cy="470.4" r="0.8"/><circle cx="495.6" cy="471.0" r="0.8"/><circle cx="484.1" cy="470.3" r="0.8"/><circle cx="486.4" cy="472.0" r="0.8"/><circle cx="488.8" cy="472.2" r="0.8"/><circle cx="491.1" cy="473.3" r="0.8"/><circle cx="493.4" cy="473.0" r="0.8"/><circle cx="495.8" cy="473.6" r="0.8"/><circle cx="498.1" cy="472.7" r="0.8"/><circle cx="500.4" cy="472.8" r="0.8"/><circle cx="502.8" cy="471.4" r="0.8"/><circle cx="505.1" cy="470.9" r="0.8"/><circle cx="491.9" cy="473.9" r="0.8"/><circle cx="494.6" cy="474.7" r="0.8"/><circle cx="497.3" cy="473.9" r="0.8"/><circle cx="484.9" cy="474.6" r="0.8"/><circle cx="487.3" cy="476.3" r="0.8"/><circle cx="489.8" cy="476.4" r="0.8"/><circle cx="492.2" cy="477.4" r="0.8"/><circle cx="494.6" cy="477.0" r="0.8"/><circle cx="497.0" cy="477.4" r="0.8"/><circle cx="499.5" cy="476.4" r="0.8"/><circle cx="501.9" cy="476.3" r="0.8"/><circle cx="504.3" cy="474.6" r="0.8"/><circle cx="487.8" cy="477.2" r="0.8"/><circle cx="490.1" cy="478.5" r="0.8"/><circle cx="492.3" cy="478.3" r="0.8"/><circle cx="494.6" cy="479.0" r="0.8"/><circle cx="496.9" cy="478.3" r="0.8"/><circle cx="499.1" cy="478.5" r="0.8"/><circle cx="501.4" cy="477.2" r="0.8"/><circle cx="486.9" cy="479.5" r="0.8"/><circle cx="489.5" cy="480.9" r="0.8"/><circle cx="492.0" cy="480.8" r="0.8"/><circle cx="494.6" cy="481.6" r="0.8"/><circle cx="497.2" cy="480.8" r="0.8"/><circle cx="499.7" cy="480.9" r="0.8"/><circle cx="502.3" cy="479.5" r="0.8"/><circle cx="488.1" cy="481.8" r="0.8"/><circle cx="490.7" cy="483.1" r="0.8"/><circle cx="493.3" cy="482.8" r="0.8"/><circle cx="495.9" cy="483.4" r="0.8"/><circle cx="498.5" cy="482.5" r="0.8"/><circle cx="501.1" cy="482.4" r="0.8"/><circle cx="493.6" cy="484.0" r="0.8"/><circle cx="495.6" cy="484.6" r="0.8"/>
</g>
<rect x="128.9" y="439.8" width="28.5" height="3" fill="#8c8c8c"/>
<rect x="211.2" y="426.3" width="27.3" height="4.3" fill="#7a7a7a"/>
<rect x="481.4" y="452.1" width="26.9" height="2.5" fill="#9a9a9a"/>
<path d="M481.4 457.1H508.3" stroke="#666" stroke-width="0.8"/>
<path d="M115.8 440.9H170.3M198 428.7H252M385.7 475.8H439.8M468.2 455.1H521.5" stroke="#111" stroke-width="1.4" fill="none"/>
</svg>
</body></html>
